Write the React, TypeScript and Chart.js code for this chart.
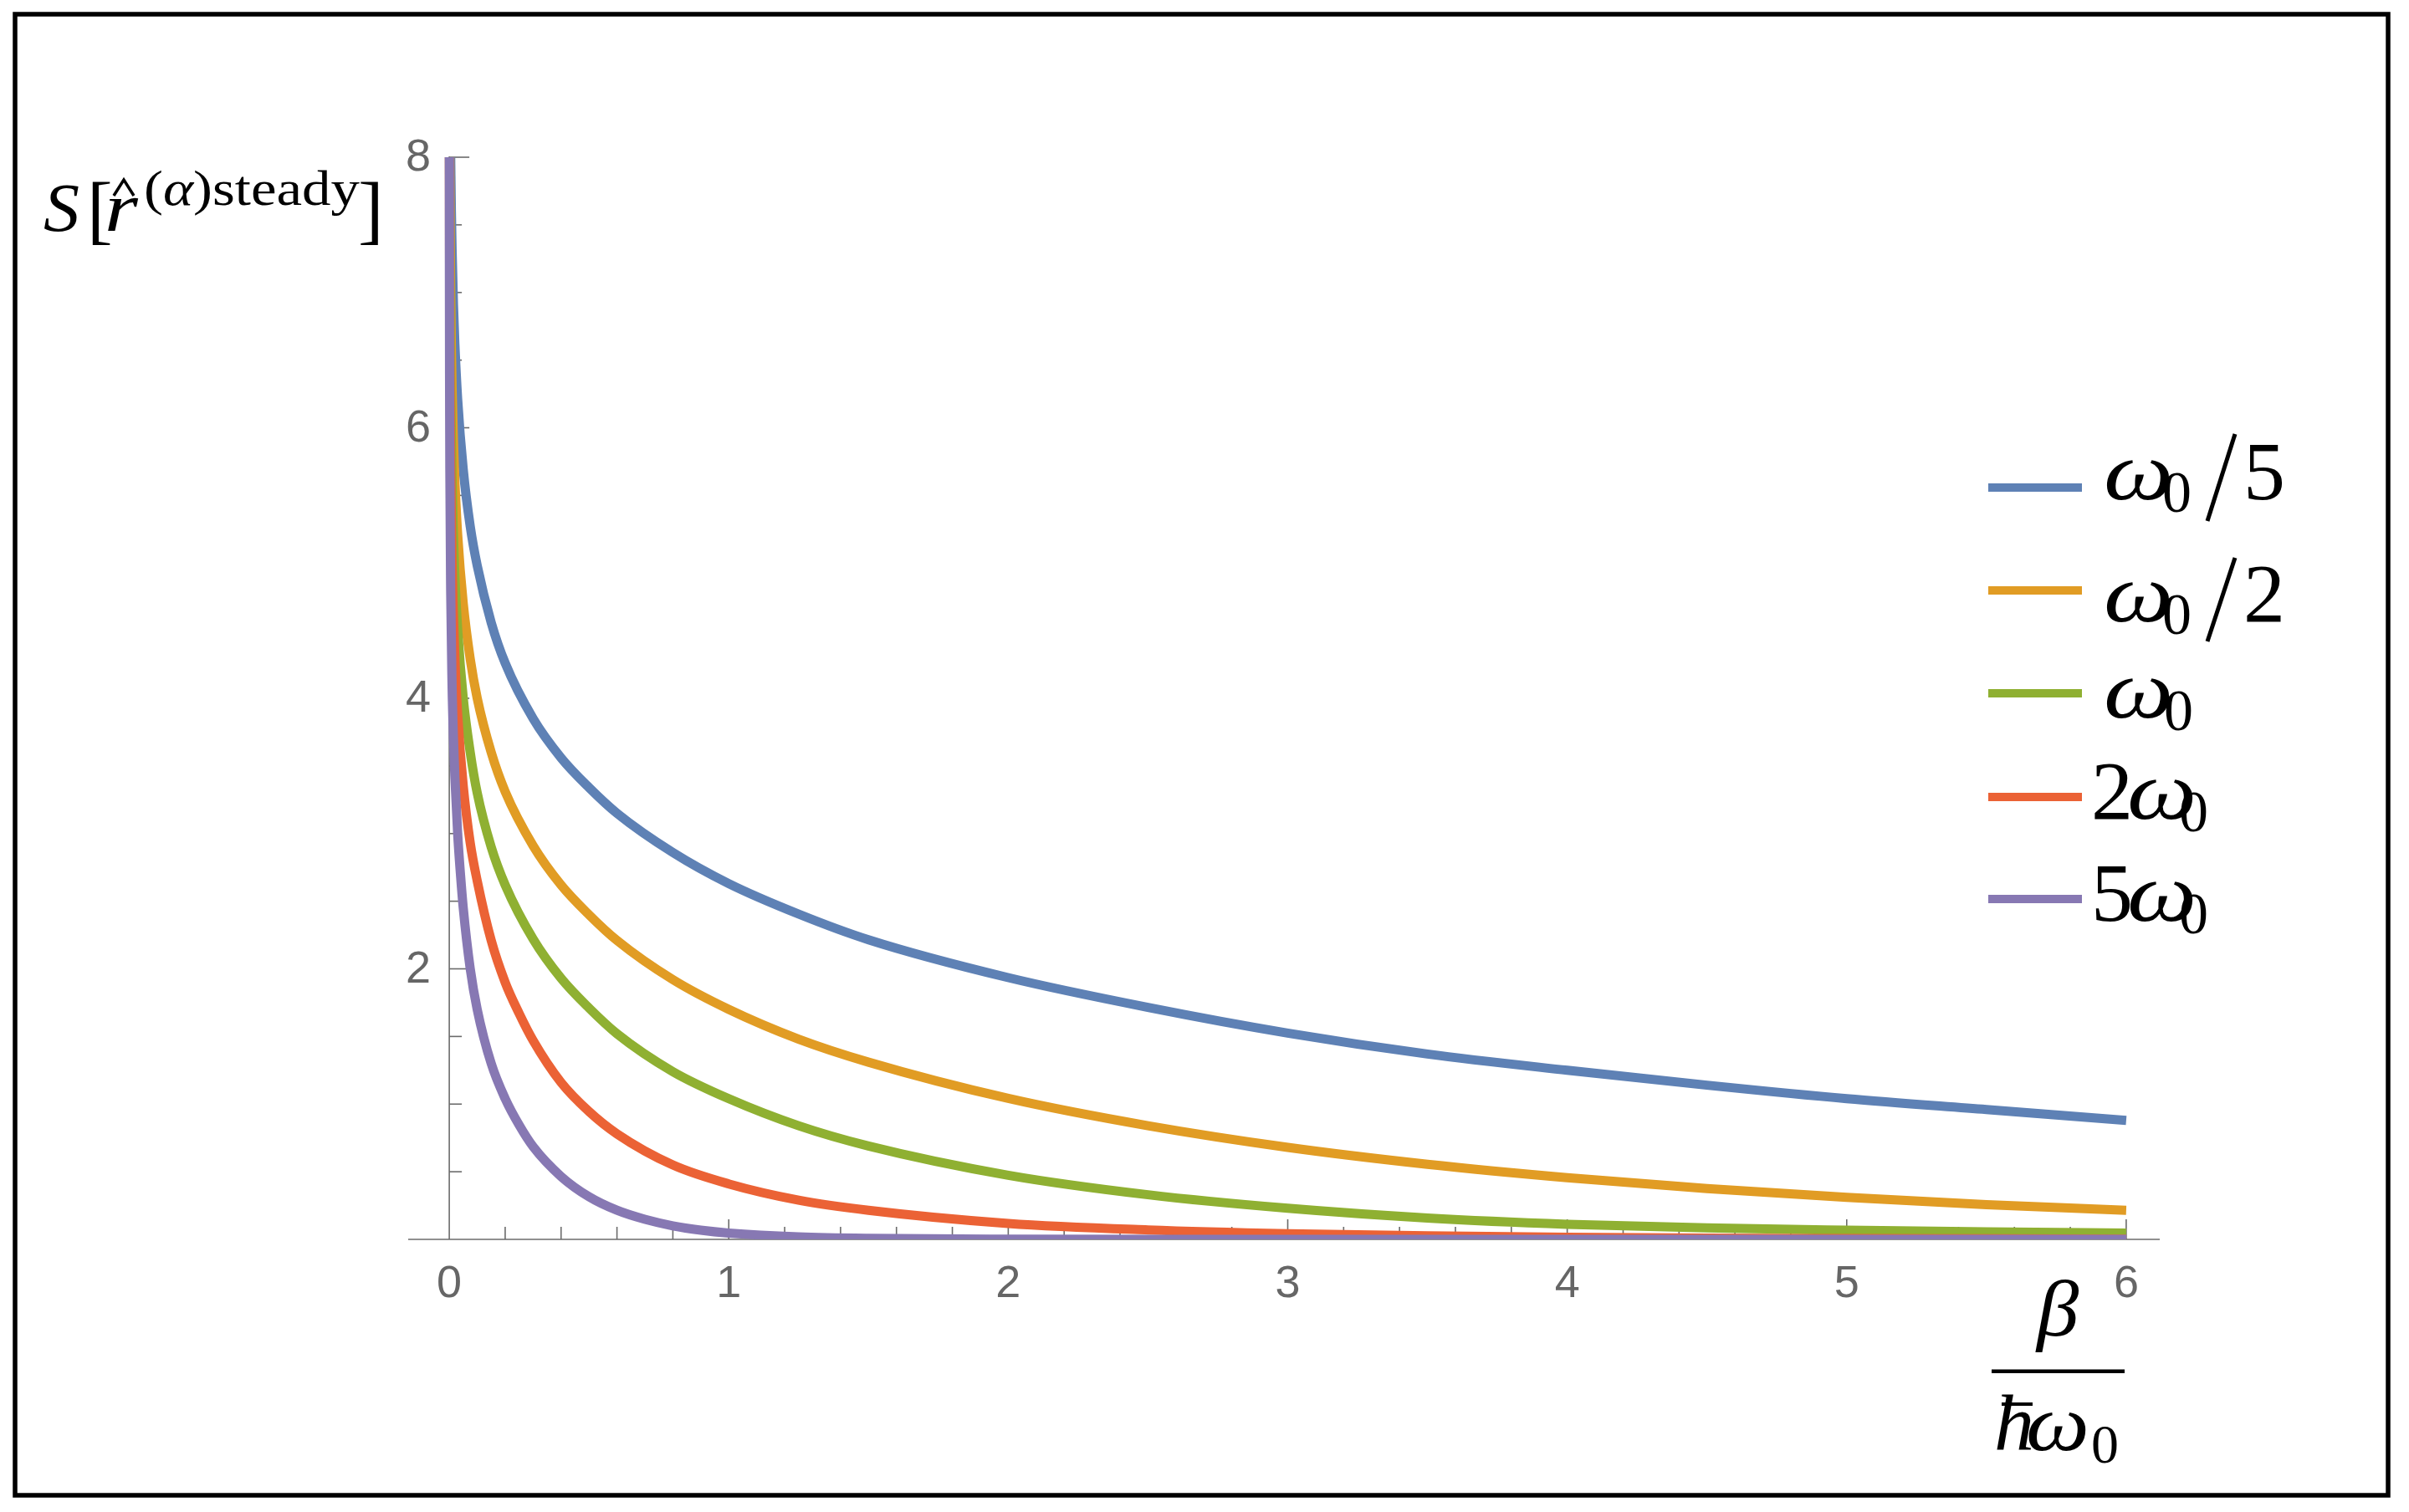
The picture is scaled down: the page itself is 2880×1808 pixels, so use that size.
import React, { useEffect, useRef } from "react";
import { Chart, registerables } from "chart.js";

Chart.register(...registerables);

// ---------------- data ----------------
const seriesLabels = ["ω0/5", "ω0/2", "ω0", "2ω0", "5ω0"];
const seriesColors = ["#5E81B5", "#E19C24", "#8FB032", "#EB6235", "#8778B3"];

const blueX = [0.005, 0.0075, 0.01, 0.015, 0.02, 0.03, 0.05, 0.075, 0.1, 0.15, 0.2, 0.3, 0.4, 0.5, 0.6, 0.8, 1, 1.25, 1.5, 2, 2.5, 3, 3.5, 4, 4.5, 5, 5.5, 6];
const blueY = [8, 7.6, 7.32, 6.91, 6.62, 6.21, 5.69, 5.27, 4.98, 4.56, 4.26, 3.85, 3.56, 3.34, 3.15, 2.86, 2.63, 2.405, 2.215, 1.935, 1.715, 1.525, 1.37, 1.25, 1.14, 1.04, 0.96, 0.88];

const orangeX = [0.0018, 0.003, 0.005, 0.0075, 0.01, 0.015, 0.02, 0.03, 0.05, 0.075, 0.1, 0.15, 0.2, 0.3, 0.4, 0.5, 0.6, 0.8, 1, 1.25, 1.5, 2, 2.5, 3, 3.5, 4, 4.5, 5, 5.5, 6];
const orangeY = [8, 7.5, 7.0, 6.6, 6.3, 5.9, 5.61, 5.21, 4.7, 4.29, 4.0, 3.6, 3.31, 2.91, 2.62, 2.4, 2.21, 1.92, 1.7, 1.48, 1.31, 1.042, 0.84, 0.68, 0.555, 0.456, 0.375, 0.31, 0.256, 0.215];

const greenX = [0.0009, 0.002, 0.005, 0.01, 0.02, 0.03, 0.05, 0.075, 0.1, 0.15, 0.2, 0.3, 0.4, 0.5, 0.6, 0.8, 1, 1.25, 1.5, 2, 2.5, 3, 3.5, 4, 4.5, 5, 5.5, 6];
const greenY = [8, 7.2, 6.3, 5.6, 4.91, 4.51, 4.0, 3.6, 3.3, 2.9, 2.62, 2.22, 1.93, 1.71, 1.52, 1.24, 1.04, 0.84, 0.69, 0.474, 0.33, 0.23, 0.158, 0.112, 0.085, 0.068, 0.055, 0.047];

const redX = [0.0005, 0.001, 0.002, 0.005, 0.01, 0.02, 0.03, 0.05, 0.075, 0.1, 0.15, 0.2, 0.25, 0.3, 0.4, 0.5, 0.6, 0.8, 1, 1.25, 1.5, 2, 2.5, 3, 3.5, 4, 4.5, 5, 5.5, 6];
const redY = [8, 7.3, 6.6, 5.7, 5.0, 4.3, 3.88, 3.35, 2.93, 2.65, 2.21, 1.9, 1.67, 1.47, 1.16, 0.945, 0.78, 0.55, 0.41, 0.29, 0.215, 0.118, 0.07, 0.042, 0.026, 0.016, 0.01, 0.006, 0.004, 0.002];

const purpleX = [0.0002, 0.0005, 0.001, 0.002, 0.005, 0.01, 0.015, 0.02, 0.03, 0.04, 0.05, 0.075, 0.1, 0.15, 0.2, 0.25, 0.3, 0.4, 0.5, 0.6, 0.7, 0.8, 0.9, 1, 1.25, 1.5, 2, 3, 4, 5, 6];
const purpleY = [8, 7.1, 6.4, 5.7, 4.8, 4.1, 3.7, 3.42, 3.0, 2.7, 2.45, 2.0, 1.7, 1.3, 1.04, 0.845, 0.685, 0.465, 0.315, 0.215, 0.148, 0.1, 0.068, 0.047, 0.019, 0.008, 0.002, 0.0003, 0, 0, 0];

const seriesX = [blueX, orangeX, greenX, redX, purpleX];
const seriesY = [blueY, orangeY, greenY, redY, purpleY];

const xMajorTicks = [0, 1, 2, 3, 4, 5, 6];
const xTickLabels = ["0", "1", "2", "3", "4", "5", "6"];
const xMinorTicks = [0.2, 0.4, 0.6, 0.8, 1.2, 1.4, 1.6, 1.8, 2.2, 2.4, 2.6, 2.8, 3.2, 3.4, 3.6, 3.8, 4.2, 4.4, 4.6, 4.8, 5.2, 5.4, 5.6, 5.8];
const yMajorTicks = [2, 4, 6, 8];
const yTickLabels = ["2", "4", "6", "8"];
const yMinorTicks = [0.5, 1, 1.5, 2.5, 3, 3.5, 4.5, 5, 5.5, 6.5, 7, 7.5];

const X_MIN = -0.147;
const X_MAX = 6.12;
const Y_MIN = 0;
const Y_MAX = 8;

// ---------------- layout (reference pixel space 2880x1808) ----------------
const REF_W = 2880;
const SERIF = "'Liberation Serif', 'DejaVu Serif', serif";
const SANS = "'Liberation Sans', Arial, sans-serif";
const legendLineY = [583, 706, 829, 953, 1075];
const legendBase = [597, 743, 858, 979, 1101];

export default function App() {
  const ref = useRef<HTMLCanvasElement | null>(null);

  useEffect(() => {
    const canvas = ref.current;
    if (!canvas) return;
    const k = window.innerWidth / REF_W;

    const plugin = {
      id: "mmaDecor",
      beforeDatasetsDraw(chart: any) {
        const { ctx, chartArea, scales } = chart;
        const xs = scales.x;
        const ys = scales.y;
        const x0 = xs.getPixelForValue(0);
        const y0 = ys.getPixelForValue(0);
        ctx.save();
        ctx.strokeStyle = "#6b6b6b";
        ctx.lineWidth = 1.6 * k;
        const seg = (a: number, b: number, c: number, d: number) => {
          ctx.beginPath();
          ctx.moveTo(a, b);
          ctx.lineTo(c, d);
          ctx.stroke();
        };
        seg(chartArea.left, y0, chartArea.right, y0);
        seg(x0, y0, x0, ys.getPixelForValue(Y_MAX) - 1 * k);
        xMajorTicks.forEach((v) => {
          const px = xs.getPixelForValue(v);
          if (v !== 0) seg(px, y0, px, y0 - 24 * k);
        });
        xMinorTicks.forEach((v) => {
          const px = xs.getPixelForValue(v);
          seg(px, y0, px, y0 - 15 * k);
        });
        yMajorTicks.forEach((v) => {
          const py = ys.getPixelForValue(v);
          seg(x0, py, x0 + 24 * k, py);
        });
        yMinorTicks.forEach((v) => {
          const py = ys.getPixelForValue(v);
          seg(x0, py, x0 + 15 * k, py);
        });
        ctx.fillStyle = "#666666";
        ctx.font = `${54 * k}px ${SANS}`;
        ctx.textBaseline = "alphabetic";
        ctx.textAlign = "center";
        xMajorTicks.forEach((v, i) => {
          ctx.fillText(xTickLabels[i], xs.getPixelForValue(v), y0 + 69 * k);
        });
        ctx.textAlign = "right";
        yMajorTicks.forEach((v, i) => {
          ctx.fillText(yTickLabels[i], x0 - 22 * k, ys.getPixelForValue(v) + 16 * k);
        });
        ctx.restore();
      },
      afterDraw(chart: any) {
        const { ctx } = chart;
        ctx.save();
        ctx.fillStyle = "#000";
        ctx.strokeStyle = "#000";
        ctx.textBaseline = "alphabetic";
        ctx.textAlign = "left";
        const setFont = (size: number, italic: boolean) => {
          ctx.font = `${italic ? "italic " : ""}${size * k}px ${SERIF}`;
        };
        const txt = (s: string, x: number, y: number, size: number, italic = false, sx = 1, align: CanvasTextAlign = "left") => {
          setFont(size, italic);
          ctx.textAlign = align;
          ctx.save();
          ctx.translate(x * k, y * k);
          ctx.scale(sx, 1);
          ctx.fillText(s, 0, 0);
          ctx.restore();
          return (ctx.measureText(s).width * sx) / k;
        };
        const stroke = (pts: number[][], w: number) => {
          ctx.lineWidth = w * k;
          ctx.lineCap = "butt";
          ctx.lineJoin = "miter";
          ctx.beginPath();
          pts.forEach((p, i) => (i === 0 ? ctx.moveTo(p[0] * k, p[1] * k) : ctx.lineTo(p[0] * k, p[1] * k)));
          ctx.stroke();
        };

        // frame
        ctx.lineWidth = 5.5 * k;
        ctx.strokeRect(18 * k, 17 * k, (2855 - 18) * k, (1788 - 17) * k);

        // y-axis label  S[ r^(α)steady ]
        txt("S", 52, 276, 82, true, 1.05);
        txt("[", 104, 281, 92);
        txt("r", 125, 276, 82, true, 1.25);
        stroke([[136, 234], [148, 215], [160, 234]], 3.5);
        {
          const parts: [string, boolean][] = [["(", false], ["α", true], [")steady", false]];
          const size = 60;
          let total = 0;
          parts.forEach(([s, it]) => {
            setFont(size, it);
            total += ctx.measureText(s).width;
          });
          const target = (430 - 172) * k;
          const sx = target / total;
          ctx.save();
          ctx.translate(172 * k, 245 * k);
          ctx.scale(sx, 1);
          let cx = 0;
          ctx.textAlign = "left";
          parts.forEach(([s, it]) => {
            setFont(size, it);
            ctx.fillText(s, cx, 0);
            cx += ctx.measureText(s).width;
          });
          ctx.restore();
        }
        txt("]", 428, 281, 92);

        // x-axis label  β / ħω0
        txt("β", 2460, 1597, 96, true, 1.05, "center");
        ctx.fillRect(2381 * k, 1637.5 * k, (2540 - 2381) * k, 4.5 * k);
        txt("h", 2384, 1734, 96, true, 1.0);
        stroke([[2393, 1679], [2430, 1679]], 4);
        const wAdv = txt("ω", 2422, 1734, 96, true, 1.12);
        txt("0", 2422 + wAdv + 2, 1749, 66);

        // legend
        seriesLabels.forEach((_, i) => {
          const ly = legendLineY[i];
          ctx.fillStyle = seriesColors[i];
          ctx.fillRect(2377 * k, (ly - 5) * k, (2489 - 2377) * k, 10 * k);
        });
        ctx.fillStyle = "#000";
        const W_SX = 1.18;
        txt("ω", 2515, legendBase[0], 100, true, W_SX);
        txt("0", 2585, legendBase[0] + 15, 70);
        stroke([[2639, 623], [2672, 519]], 5);
        txt("5", 2682, legendBase[0], 100);
        txt("ω", 2515, legendBase[1], 100, true, W_SX);
        txt("0", 2585, legendBase[1] + 15, 70);
        stroke([[2639, 767], [2672, 667]], 5);
        txt("2", 2682, legendBase[1], 100);
        txt("ω", 2515, legendBase[2], 100, true, W_SX);
        txt("0", 2587, legendBase[2] + 15, 70);
        txt("2", 2500, legendBase[3], 100);
        txt("ω", 2543, legendBase[3], 100, true, W_SX);
        txt("0", 2605, legendBase[3] + 15, 70);
        txt("5", 2500, legendBase[4], 100);
        txt("ω", 2543, legendBase[4], 100, true, W_SX);
        txt("0", 2605, legendBase[4] + 15, 70);

        ctx.restore();
      },
    };

    const datasets = seriesLabels.map((label, i) => ({
      label,
      data: seriesX[i].map((x, j) => ({ x, y: seriesY[i][j] })),
      borderColor: seriesColors[i],
      backgroundColor: seriesColors[i],
      borderWidth: 11 * k,
      pointRadius: 0,
      fill: false,
      cubicInterpolationMode: "monotone" as const,
      borderCapStyle: "butt" as const,
      borderJoinStyle: "round" as const,
      order: seriesLabels.length - i,
      clip: { left: 30 * k, right: 30 * k, top: 4 * k, bottom: 0 },
    }));

    const chart = new Chart(canvas, {
      type: "line",
      data: { datasets },
      options: {
        animation: false,
        responsive: true,
        maintainAspectRatio: false,
        events: [],
        layout: {
          padding: {
            left: 488 * k,
            right: (REF_W - 2582) * k,
            top: 188 * k,
            bottom: (1808 - 1482) * k,
          },
        },
        plugins: {
          legend: { display: false },
          tooltip: { enabled: false },
          title: { display: false },
        },
        scales: {
          x: { type: "linear", min: X_MIN, max: X_MAX, display: false },
          y: { type: "linear", min: Y_MIN, max: Y_MAX, display: false },
        },
      },
      plugins: [plugin],
    });

    return () => chart.destroy();
  }, []);

  return (
    <div style={{ position: "fixed", left: 0, top: 0, width: "100vw", height: "100vh", background: "#fff" }}>
      <canvas ref={ref} />
    </div>
  );
}
